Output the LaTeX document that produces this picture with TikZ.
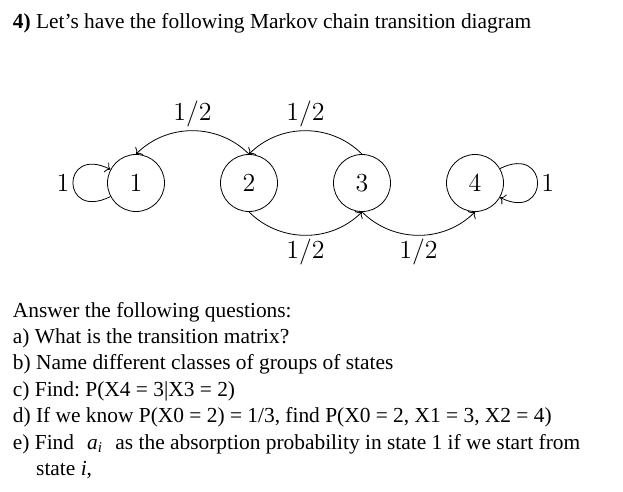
\documentclass[tikz,border=0pt]{standalone}
\usepackage{amsmath,amssymb}
\usepackage{xcolor}
\usepackage{fontspec}
\usepackage{tikz}
\usetikzlibrary{arrows.meta}
\newfontfamily\qfont{Liberation Serif}
\newfontfamily\cmfont{lmroman12-regular.otf}

\begin{document}
\begin{tikzpicture}[x=1pt,y=1pt]
        \useasboundingbox (0,0) rectangle (623,-491);
        \tikzstyle{mstate} = [circle, draw, line width=0.8pt, minimum size=57pt, inner sep=0pt, font=\cmfont\fontsize{26}{30}\selectfont]
        \tikzstyle{lbl} = [font=\cmfont\fontsize{26}{30}\selectfont]
        \tikzstyle{trans} = [-{To[length=5pt, width=11pt]}, line width=0.8pt]
        \tikzstyle{txt} = [anchor=base west, inner sep=0pt, font=\qfont\fontsize{21.4}{25}\selectfont\frenchspacing]
        % heading
        \node[txt] (title) at (12.7,-28.3) {\textbf{4)} Let’s have the following Markov chain transition diagram};
        % the chain
        \node[mstate] (n1) at (136,-183) {1};
        \node[mstate] (n2) at (249,-183) {2};
        \node[mstate] (n3) at (362,-183) {3};
        \node[mstate] (n4) at (475,-183) {4};
        \foreach \from/\to/\anc/\side in {n2/n1/north/above, n3/n2/north/above,
        n2/n3/south/below, n3/n4/south/below}
            \draw[trans] (\from.\anc) to[bend right=45] node[lbl, \side] (l\from\to) {1/2} (\to.\anc);
        % self loops
        \draw[trans] (n1.208) .. controls +(-50,-25) and +(-50,25) .. node[lbl, left] (l11) {1} (n1.152);
        \draw[trans] (n4.30) .. controls +(50,25) and +(50,-25) .. node[lbl, right] (l44) {1} (n4.-30);
        % questions
        \node[txt] (q0) at (12.7,-317) {Answer the following questions:};
        \node[txt] (qa) at (12.7,-343) {a) What is the transition matrix?};
        \node[txt] (qb) at (12.7,-369) {b) Name different classes of groups of states};
        \node[txt] (qc) at (12.7,-396) {c) Find: P(X4 = 3|X3 = 2)};
        \node[txt] (qd) at (12.7,-422) {d) If we know P(X0 = 2) = 1/3, find P(X0 = 2, X1 = 3, X2 = 4)};
        \node[txt] (qe) at (12.7,-449) {e) Find\hspace{13pt}\textit{a}\textsubscript{\textit{i}}\hspace{13pt}as the absorption probability in state 1 if we start from};
        \node[txt] (qf) at (36,-475) {state \textit{i},};
    \end{tikzpicture}
\end{document}
